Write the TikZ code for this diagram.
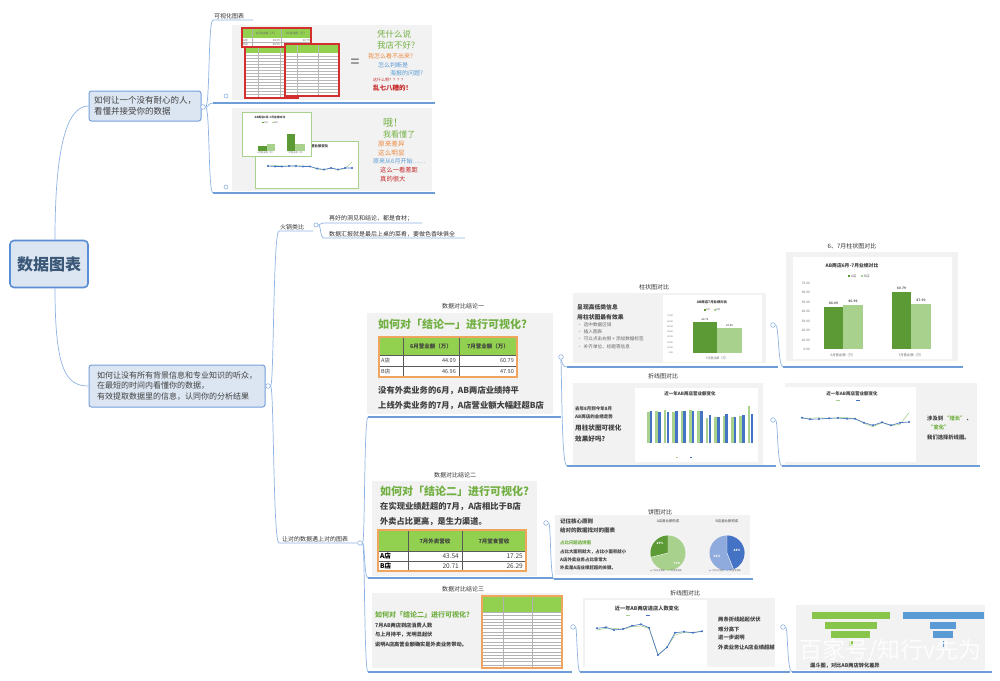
\documentclass[tikz,border=0pt]{standalone}
\usepackage{fontspec}
\setmainfont{Noto Sans CJK SC}
\newcommand\fsz[2]{\fontsize{#1}{#2}\selectfont}
\definecolor{lnblue}{HTML}{8FB4E3}
\definecolor{ulblue}{HTML}{6E9ED8}
\definecolor{nfill}{HTML}{DCE6F2}
\definecolor{nbord}{HTML}{5B8ED6}
\definecolor{roottxt}{HTML}{3B5878}
\definecolor{bgc}{HTML}{F2F2F2}
\definecolor{gtitle}{HTML}{72B043}
\definecolor{hdrg}{HTML}{92D050}
\definecolor{dgreen}{HTML}{5B9A35}
\definecolor{lgreen}{HTML}{A9D18E}
\definecolor{orng}{HTML}{F0A55E}
\definecolor{redb}{HTML}{D32F2F}
\definecolor{chblue}{HTML}{4472C4}
\definecolor{lblue}{HTML}{8FAADC}
\definecolor{torange}{HTML}{ED8A3F}
\definecolor{tblue}{HTML}{5B9BD5}
\definecolor{tred}{HTML}{C62828}
\definecolor{tgray}{HTML}{404040}
\begin{document}
\begin{tikzpicture}[x=1pt,y=-1pt,
  conn/.style={draw=lnblue,line width=0.7pt},
  ul/.style={draw=ulblue,line width=1.8pt},
  cmark/.style={circle,draw=lnblue,fill=white,inner sep=0pt,minimum size=4.6pt,line width=0.6pt},
  t/.style={inner sep=0pt,anchor=west},
  tc/.style={inner sep=0pt},
  lbl/.style={inner sep=0pt,font=\fsz{6}{7},text=black!80},
  tiny/.style={inner sep=0pt,font=\fsz{2.8}{3.2},text=black!60},
  rootn/.style={rounded corners=4pt,fill=nfill,draw=nbord,line width=1.6pt,minimum width=78pt,minimum height=47pt,inner sep=0pt,font=\fsz{16}{18}\bfseries,text=roottxt},
  topn/.style={rounded corners=2.5pt,fill=nfill,draw=nbord!85,line width=1pt,align=left,text=tgray,inner xsep=5pt,inner ysep=3pt},
  chtitle/.style={inner sep=0pt,font=\fsz{4.5}{5}\bfseries,text=tgray},
  btxt/.style={inner sep=0pt,anchor=west,font=\fsz{5.3}{6}\bfseries,text=tgray},
]
\useasboundingbox (0,0) rectangle (1000,680);
\fill[white] (0,0) rectangle (1000,680);

% ---------------- main topics
\node[rootn] (root) at (49,264) {数据图表};
\node[topn,minimum width=112pt,minimum height=30pt,font=\fsz{8.5}{11}] (na) at (145,106) {如何让一个没有耐心的人，\\看懂并接受你的数据};
\node[topn,minimum width=176pt,minimum height=42pt,font=\fsz{8}{10.5}] (nb) at (177,386) {如何让没有所有背景信息和专业知识的听众，\\在最短的时间内看懂你的数据，\\有效提取数据里的信息，认同你的分析结果};
\draw[conn] ([xshift=6pt]root.north) .. controls (55,150) and (66,106) .. (na.west);
\draw[conn] ([xshift=6pt]root.south) .. controls (55,370) and (66,386) .. (nb.west);

% ---------------- branch A
\node[cmark] (ca) at (203,107) {};
\node[lbl,anchor=south west] (vis) at (214,19) {可视化图表};
\coordinate (visE) at (253,20);
\coordinate (im1s) at (213,103); \coordinate (im1e) at (435,103);
\coordinate (im2s) at (213,193); \coordinate (im2e) at (435,193);
\draw[conn] (ca.east) .. controls (210,107) and (208,20) .. (213,20) -- (visE);
\draw[conn] (ca.east) .. controls (209,107) and (208,103) .. (im1s);
\draw[conn] (ca.east) .. controls (210,107) and (208,193) .. (im2s);
\draw[ul] (im1s) -- (im1e);
\draw[ul] (im2s) -- (im2e);
\node[cmark,minimum size=4pt] (m1) at (226,96) {};
\node[cmark,minimum size=4pt] (m2) at (226,187) {};

% image 1
\fill[bgc] (232,25) rectangle (432,100);
\fill[white] (245,47) rectangle (298,98);
\fill[hdrg] (245,47) rectangle (298,52.5);
\foreach \yy in {55.5,58.5,...,97} \draw[gray!55,line width=0.2pt] (245,\yy) -- (298,\yy);
\draw[gray!55,line width=0.2pt] (258,47) -- (258,98) (280,47) -- (280,98);
\draw[redb,line width=1.1pt] (245,47) rectangle (298,98);
\fill[white] (242,28) rectangle (311,47);
\fill[hdrg] (242,28) rectangle (311,38);
\draw[gray!60,line width=0.2pt] (242,42.5) -- (311,42.5) (252,28) -- (252,47) (281,28) -- (281,47);
\node[tiny] (s1) at (266.5,33) {6月营业额（万）};
\node[tiny] (s2) at (296,33) {7月营业额（万）};
\node[tiny,anchor=west] (s3) at (243,40.2) {A店};
\node[tiny,anchor=east] (s4) at (280,40.2) {44.09};
\node[tiny,anchor=east] (s5) at (310,40.2) {60.79};
\node[tiny,anchor=west] (s6) at (243,44.8) {B店};
\node[tiny,anchor=east] (s7) at (280,44.8) {46.96};
\node[tiny,anchor=east] (s8) at (310,44.8) {47.90};
\draw[redb,line width=1.1pt] (242,28) rectangle (311,47);
\fill[white] (285,44) rectangle (339,96);
\fill[hdrg] (285,44) rectangle (339,53);
\foreach \yy in {56,59,...,95} \draw[gray!55,line width=0.2pt] (285,\yy) -- (339,\yy);
\draw[gray!55,line width=0.2pt] (297,44) -- (297,96) (318,44) -- (318,96);
\draw[redb,line width=1.1pt] (285,44) rectangle (339,96);
\node[tc,font=\fsz{16}{16},text=gray!70!black] (eq) at (355,63) {=};
\node[t,font=\fsz{8.5}{9},text=gtitle] (w1) at (377,34) {凭什么说};
\node[t,font=\fsz{8.5}{9},text=gtitle] (w2) at (377,45) {我店不好?};
\node[t,font=\fsz{6}{7},text=torange] (w3) at (368,56) {我怎么看不出来?};
\node[t,font=\fsz{6}{7},text=tblue] (w4) at (378,65) {怎么判断是};
\node[t,font=\fsz{6}{7},text=tblue] (w5) at (390,73) {海报的问题?};
\node[t,font=\fsz{4}{5},text=tred] (w6) at (373,80) {这什么啊？？？？};
\node[t,font=\fsz{6.5}{7}\bfseries,text=tred] (w7) at (373,88.5) {乱七八糟的！};

% image 2
\fill[bgc] (232,108) rectangle (432,191);
\filldraw[fill=white,draw=lgreen,line width=0.8pt] (255,141) rectangle (358,188);
\node[tc,font=\fsz{3.4}{4}\bfseries,text=tgray] (lc0) at (309,146) {近一年AB两店营业额变化};
\draw[lgreen,line width=0.5pt] (268,166) -- (275,165.5) -- (282,166) -- (289,166) -- (296,165.8) -- (303,166) -- (310,166.3) -- (317,169) -- (324,170) -- (331,168) -- (338,170) -- (345,168.5) -- (352,162);
\draw[chblue,line width=0.6pt] plot[mark=*,mark size=0.6pt] coordinates {(268,166) (275,166.5) (282,166.5) (289,166) (296,166) (303,166.5) (310,166.5) (317,168.5) (324,169.5) (331,168) (338,169.5) (345,168) (352,168)};
\filldraw[fill=white,draw=lgreen,line width=0.8pt] (242,112) rectangle (311,156);
\node[tc,font=\fsz{2.8}{3}\bfseries,text=tgray] (bc0) at (270,117) {AB两店6月-7月业绩对比};
\fill[dgreen] (262,121.5) rectangle (263.5,123);
\fill[lgreen] (272,121.5) rectangle (273.5,123);
\node[tiny,anchor=west,font=\fsz{2.2}{2.5}] (bc1) at (264,122.3) {A店};
\node[tiny,anchor=west,font=\fsz{2.2}{2.5}] (bc2) at (274,122.3) {B店};
\fill[dgreen] (258,146) rectangle (267,150.5);
\fill[lgreen] (267,144) rectangle (275,150.5);
\fill[dgreen] (287,134) rectangle (295,150.5);
\fill[lgreen] (295,144) rectangle (305,150.5);
\node[tiny,font=\fsz{2.2}{2.5}] (bc3) at (266,153) {6月营业额（万）};
\node[tiny,font=\fsz{2.2}{2.5}] (bc4) at (296,153) {7月营业额（万）};
\node[t,font=\fsz{10}{11},text=gtitle] (v1) at (383,123) {哦！};
\node[t,font=\fsz{8}{9},text=gtitle] (v2) at (383,134) {我看懂了};
\node[t,font=\fsz{6.6}{7},text=torange] (v3) at (378,144) {原来差异};
\node[t,font=\fsz{6.6}{7},text=torange] (v4) at (378,152.5) {这么明显};
\node[t,font=\fsz{6}{7},text=tblue] (v5) at (373,161) {原来从6月开始……};
\node[t,font=\fsz{6.3}{7},text=tred] (v6) at (380,170) {这么一看差距};
\node[t,font=\fsz{6.3}{7},text=tred] (v7) at (380,179) {真的很大};

% ---------------- branch B
\node[cmark] (cb) at (268,386) {};
\node[lbl,anchor=south west] (hg) at (280,230) {火锅类比};
\coordinate (hgE) at (313,231);
\draw[conn] (cb.east) .. controls (274,386) and (273,231) .. (279,231) -- (hgE);
\node[cmark,minimum size=4.2pt] (chg) at (316,225) {};
\node[lbl,anchor=south west] (c1) at (329,222) {再好的洞见和结论，都是食材；};
\node[lbl,anchor=south west] (c2) at (329,237) {数据汇报就是最后上桌的菜肴，要做色香味俱全};
\coordinate (c1s) at (324,223); \coordinate (c1E) at (422,223);
\coordinate (c2s) at (324,238); \coordinate (c2E) at (465,238);
\draw[conn] (chg.east) .. controls (321,225) and (320,223) .. (c1s) -- (c1E);
\draw[conn] (chg.east) .. controls (321,225) and (320,238) .. (c2s) -- (c2E);

\node[lbl,anchor=south west] (rd) at (282,542) {让对的数据遇上对的图表};
\coordinate (rdE) at (357,543);
\draw[conn] (cb.east) .. controls (274,386) and (273,543) .. (279,543) -- (rdE);
\node[cmark] (crd) at (360,543) {};
\coordinate (b1s) at (368,417); \coordinate (b1e) at (561,417);
\coordinate (b2s) at (368,578); \coordinate (b2e) at (553,578);
\coordinate (b3s) at (368,672); \coordinate (b3e) at (572,672);
\draw[conn] (crd.east) .. controls (365,543) and (364,417) .. (b1s);
\draw[conn] (crd.east) .. controls (365,543) and (364,578) .. (b2s);
\draw[conn] (crd.east) .. controls (365,543) and (364,672) .. (b3s);
\draw[ul] (b1s) -- (b1e);
\draw[ul] (b2s) -- (b2e);
\draw[ul] (b3s) -- (b3e);

% ---------------- block 1
\node[lbl] (k1) at (463,306) {数据对比结论一};
\fill[bgc] (367,313) rectangle (553,414);
\node[t,font=\fsz{11}{12}\bfseries,text=gtitle] (k1t) at (378,324) {如何对「结论一」进行可视化?};
\fill[white] (379,337) rectangle (517,377);
\fill[hdrg] (379,337) rectangle (517,355);
\draw[gray!70!black,line width=0.3pt] (379,355) -- (517,355) (379,366) -- (517,366) (403,337) -- (403,377) (459,337) -- (459,377);
\draw[orng,line width=1.3pt] (379,337) rectangle (517,377);
\node[tc,font=\fsz{5.5}{6}\bfseries,text=tgray] (k1a) at (431,346) {6月营业额（万）};
\node[tc,font=\fsz{5.5}{6}\bfseries,text=tgray] (k1b) at (488,346) {7月营业额（万）};
\node[t,font=\fsz{5.5}{6},text=tgray] (k1c) at (381,360.5) {A店};
\node[tc,anchor=east,font=\fsz{5.5}{6},text=tgray] (k1d) at (456,360.5) {44.09};
\node[tc,anchor=east,font=\fsz{5.5}{6},text=tgray] (k1e) at (514,360.5) {60.79};
\node[t,font=\fsz{5.5}{6},text=tgray] (k1f) at (381,371.5) {B店};
\node[tc,anchor=east,font=\fsz{5.5}{6},text=tgray] (k1g) at (456,371.5) {46.96};
\node[tc,anchor=east,font=\fsz{5.5}{6},text=tgray] (k1h) at (514,371.5) {47.90};
\node[t,font=\fsz{8.3}{9}\bfseries,text=tgray] (k1i) at (378,391) {没有外卖业务的6月，AB两店业绩持平};
\node[t,font=\fsz{8.3}{9}\bfseries,text=tgray] (k1j) at (378,406) {上线外卖业务的7月，A店营业额大幅赶超B店};

\node[cmark] (cb1) at (561,357) {};
\coordinate (u1s) at (567,367); \coordinate (u1e) at (778,367);
\coordinate (u2s) at (567,466); \coordinate (u2e) at (776,466);
\draw[conn] (cb1.south) .. controls (562,363) and (563,367) .. (u1s);
\draw[conn] (cb1.south) .. controls (562,400) and (562,466) .. (u2s);
\draw[ul] (u1s) -- (u1e);
\draw[ul] (u2s) -- (u2e);

% 柱状图对比
\node[lbl] (k2) at (654,287) {柱状图对比};
\fill[bgc] (573,293) rectangle (766,363);
\node[t,font=\fsz{5.8}{6}\bfseries,text=tgray] (k2a) at (577,307) {呈现高低类信息};
\node[t,font=\fsz{5.8}{6}\bfseries,text=tgray] (k2b) at (577,317) {用柱状图最有效果};
\node[t,font=\fsz{4.6}{5},text=gray!80!black] (k2c) at (577,324.5) {·\ \ 选中数据区域};
\node[t,font=\fsz{4.6}{5},text=gray!80!black] (k2d) at (577,331.8) {·\ \ 插入图表};
\node[t,font=\fsz{4.6}{5},text=gray!80!black] (k2e) at (577,339) {·\ \ 可以点击右侧 + 添加数据标签};
\node[t,font=\fsz{4.6}{5},text=gray!80!black] (k2f) at (577,346.3) {·\ \ 补齐单位、标题等信息};
\fill[white] (663,295) rectangle (762,362);
\node[tc,font=\fsz{3.4}{4}\bfseries,text=tgray] (k2g) at (712,302) {AB两店7月业绩对比};
\fill[dgreen] (704,309) rectangle (705.6,310.6);
\fill[lgreen] (714,309) rectangle (715.6,310.6);
\node[tiny,anchor=west,font=\fsz{2.4}{3}] (k2h) at (706,309.8) {A店};
\node[tiny,anchor=west,font=\fsz{2.4}{3}] (k2i) at (716,309.8) {B店};
\foreach \v [count=\i from 0] in {70.00,60.00,50.00,40.00,30.00,20.00,10.00,0.00}
  \node[tiny,anchor=east,font=\fsz{2.2}{2.5}] (k2y\i) at (673,{316+\i*5.3}) {\v};
\fill[dgreen] (693,322) rectangle (717,353);
\fill[lgreen] (717,328) rectangle (742,353);
\node[tiny,font=\fsz{2.4}{3}\bfseries] (k2j) at (705,319.5) {60.79};
\node[tiny,font=\fsz{2.4}{3}\bfseries] (k2k) at (729.5,325.5) {47.90};
\node[tiny,font=\fsz{3}{3.5}] (k2l) at (717,358.5) {7月营业额（万）};

\node[cmark] (cbar) at (773,325) {};
\coordinate (u3s) at (783,367); \coordinate (u3e) at (963,367);
\draw[conn] (cbar.east) .. controls (779,325) and (778,367) .. (u3s);
\draw[ul] (u3s) -- (u3e);

% 6、7月柱状图对比
\node[lbl] (k3) at (852,246) {6、7月柱状图对比};
\fill[bgc] (786,252) rectangle (958,361);
\fill[white] (793,257) rectangle (952,359);
\node[tc,font=\fsz{4.8}{5}\bfseries,text=tgray] (k3a) at (852,266) {AB两店6月-7月业绩对比};
\fill[dgreen] (848,275) rectangle (850,277);
\fill[lgreen] (861,275) rectangle (863,277);
\node[tiny,anchor=west,font=\fsz{3.3}{4}] (k3b) at (851,276) {A店};
\node[tiny,anchor=west,font=\fsz{3.3}{4}] (k3c) at (864,276) {B店};
\foreach \v [count=\i from 0] in {70.00,60.00,50.00,40.00,30.00,20.00,10.00,0.00}
  \node[tiny,anchor=east,font=\fsz{3.2}{4}] (k3y\i) at (810,{283.3+\i*9.43}) {\v};
\fill[dgreen] (824,307.4) rectangle (843,349.3);
\fill[lgreen] (843,304.7) rectangle (863,349.3);
\fill[dgreen] (892,292) rectangle (911,349.3);
\fill[lgreen] (911,304.1) rectangle (931,349.3);
\node[tiny,font=\fsz{3.3}{4}\bfseries] (k3d) at (833.5,303.5) {44.09};
\node[tiny,font=\fsz{3.3}{4}\bfseries] (k3e) at (853,300.8) {46.96};
\node[tiny,font=\fsz{3.3}{4}\bfseries] (k3f) at (901.5,288.2) {60.79};
\node[tiny,font=\fsz{3.3}{4}\bfseries] (k3g) at (921,300.2) {47.90};
\node[tiny,font=\fsz{3.3}{4}] (k3h) at (843,355) {6月营业额（万）};
\node[tiny,font=\fsz{3.3}{4}] (k3i) at (911,355) {7月营业额（万）};

% 折线图对比 1
\node[lbl] (k4) at (663,376) {折线图对比};
\fill[bgc] (573,383) rectangle (763,465);
\node[t,font=\fsz{4.5}{5}\bfseries,text=tgray] (k4a) at (575,409) {去年8月到今年8月};
\node[t,font=\fsz{4.5}{5}\bfseries,text=tgray] (k4b) at (575,417) {AB两店的业绩走势};
\node[t,font=\fsz{6.6}{7}\bfseries,text=tgray] (k4c) at (575,427.5) {用柱状图可视化};
\node[t,font=\fsz{6.6}{7}\bfseries,text=tgray] (k4d) at (575,439) {效果好吗?};
\fill[white] (635,388) rectangle (758,462);
\node[chtitle] (k4e) at (690,394) {近一年AB两店营业额变化};
\foreach \g/\b [count=\i from 0] in {125/122,122/127,120/126,126/123,122/122,120/124,124/124,145/135,140/141,138/132,142/142,138/134,108/132}{
  \fill[lgreen] ({647+\i*8.4},{370+\g/3}) rectangle ({649.6+\i*8.4},442.7);
  \fill[chblue] ({649.8+\i*8.4},{370+\b/3}) rectangle ({652.4+\i*8.4},442.7);
}
\fill[lgreen] (676,456.5) rectangle (677.5,458);
\fill[chblue] (690,456.5) rectangle (691.5,458);

\node[cmark] (cln) at (773,420) {};
\coordinate (u4s) at (782,466); \coordinate (u4e) at (980,466);
\draw[conn] (cln.east) .. controls (778,420) and (777,466) .. (u4s);
\draw[ul] (u4s) -- (u4e);
\fill[bgc] (785,383) rectangle (977,465);
\fill[white] (785,387) rectangle (916,462);
\node[chtitle] (k5a) at (852,394) {近一年AB两店营业额变化};
\draw[lgreen,line width=0.6pt] (836,400) -- (840,400);
\draw[chblue,line width=0.6pt] (856,400) -- (860,400);
\draw[lgreen,line width=0.6pt] plot coordinates {(802,418.3) (810,418.3) (819,417.7) (829,418.7) (838,417.7) (847,417.7) (855,418.7) (864,423.3) (873,426.7) (882,422.7) (891,425.7) (900,424.3) (909,412.7)};
\draw[chblue,line width=0.6pt] plot[mark=*,mark size=0.7pt] coordinates {(802,417.7) (810,419.3) (819,419) (829,418.3) (838,418) (847,418.7) (855,418.7) (864,422.7) (873,425.3) (882,422.3) (891,425.3) (900,422.7) (909,422)};
\node[btxt] (k5b) at (927,418) {涉及到 \textcolor{gtitle}{“增长”} 、};
\node[btxt] (k5c) at (928,427.5) {\textcolor{gtitle}{“变化”}};
\node[btxt] (k5d) at (927,438) {我们选择折线图。};

% ---------------- block 2
\node[lbl] (k6) at (455,475) {数据对比结论二};
\fill[bgc] (372,481) rectangle (537,576);
\node[t,font=\fsz{11}{12}\bfseries,text=gtitle] (k6t) at (380,491) {如何对「结论二」进行可视化?};
\node[t,font=\fsz{8.3}{9}\bfseries,text=tgray] (k6a) at (380,507) {在实现业绩赶超的7月，A店相比于B店};
\node[t,font=\fsz{8.2}{9}\bfseries,text=tgray] (k6b) at (380,522) {外卖占比更高，是生力渠道。};
\fill[white] (378,530) rectangle (526,571);
\fill[hdrg] (378,530) rectangle (526,551);
\draw[gray!70!black,line width=0.3pt] (378,551) -- (526,551) (378,561) -- (526,561) (408,530) -- (408,571) (462,530) -- (462,571);
\draw[orng,line width=1.3pt] (378,530) rectangle (526,571);
\node[tc,font=\fsz{5.5}{6}\bfseries,text=tgray] (k6c) at (435,541) {7月外卖营收};
\node[tc,font=\fsz{5.5}{6}\bfseries,text=tgray] (k6d) at (494,541) {7月堂食营收};
\node[t,font=\fsz{6.5}{7}\bfseries,text=black] (k6e) at (380,556) {A店};
\node[tc,anchor=east,font=\fsz{6.5}{7},text=tgray] (k6f) at (459,556) {43.54};
\node[tc,anchor=east,font=\fsz{6.5}{7},text=tgray] (k6g) at (523,556) {17.25};
\node[t,font=\fsz{6.5}{7}\bfseries,text=black] (k6h) at (380,566.3) {B店};
\node[tc,anchor=east,font=\fsz{6.5}{7},text=tgray] (k6i) at (459,566.3) {20.71};
\node[tc,anchor=east,font=\fsz{6.5}{7},text=tgray] (k6j) at (523,566.3) {26.29};

\node[cmark] (cb2) at (546,523) {};
\coordinate (u5s) at (554,579); \coordinate (u5e) at (753,579);
\draw[conn] (cb2.east) .. controls (551,523) and (550,579) .. (u5s);
\draw[ul] (u5s) -- (u5e);

% 饼图对比
\node[lbl] (k7) at (660,512) {饼图对比};
\fill[bgc] (555,515) rectangle (750,575);
\node[t,font=\fsz{5.5}{6}\bfseries,text=tgray] (k7a) at (560,521) {记住核心原则};
\node[t,font=\fsz{5.5}{6}\bfseries,text=tgray] (k7b) at (560,530.5) {给对的数据找对的图表};
\node[t,font=\fsz{4.4}{5}\bfseries,text=gtitle] (k7c) at (560,543) {占比问题选饼图};
\node[t,font=\fsz{4.4}{5}\bfseries,text=tgray] (k7d) at (560,551.5) {占比大面积就大，占比小面积就小};
\node[t,font=\fsz{4.4}{5}\bfseries,text=tgray] (k7e) at (560,559.5) {A店外卖业务占比非常大};
\node[t,font=\fsz{4.4}{5}\bfseries,text=tgray] (k7f) at (560,567.5) {外卖是A店业绩赶超的关键。};
\node[tc,font=\fsz{3.4}{4},text=tgray] (k7g) at (668,521) {A店营业额构成};
\fill[lgreen] (668,553) circle (17.5);
\fill[dgreen] (668,553) -- ++(-90:17.5) arc[start angle=-90,end angle=-194,radius=17.5] -- cycle;
\draw[white,line width=0.4pt] (668,553) -- ++(-90:17.5) (668,553) -- ++(-194:17.5);
\node[tc,font=\fsz{3}{3.5}\bfseries,text=white] (k7h) at (660,543.5) {29\%};
\node[tc,font=\fsz{3}{3.5}\bfseries,text=white] (k7i) at (677,563) {71\%};
\node[tc,font=\fsz{3.4}{4},text=tgray] (k7j) at (727,521) {B店营业额构成};
\fill[lblue] (727,553) circle (17.5);
\fill[chblue] (727,553) -- ++(-90:17.5) arc[start angle=-90,end angle=68,radius=17.5] -- cycle;
\draw[white,line width=0.4pt] (727,553) -- ++(-90:17.5) (727,553) -- ++(68:17.5);
\node[tc,font=\fsz{3}{3.5}\bfseries,text=white] (k7k) at (737,550) {44\%};
\node[tc,font=\fsz{3}{3.5}\bfseries,text=white] (k7l) at (717,556) {56\%};
\fill[dgreen] (651,570.5) circle (0.7);
\fill[lgreen] (668,570.5) circle (0.7);
\node[tiny,anchor=west,font=\fsz{2.2}{2.5}] (k7m) at (652.5,570.5) {7月外卖营收};
\node[tiny,anchor=west,font=\fsz{2.2}{2.5}] (k7n) at (669.5,570.5) {7月堂食营收};
\fill[chblue] (710,570.5) circle (0.7);
\fill[lblue] (727,570.5) circle (0.7);
\node[tiny,anchor=west,font=\fsz{2.2}{2.5}] (k7o) at (711.5,570.5) {7月外卖营收};
\node[tiny,anchor=west,font=\fsz{2.2}{2.5}] (k7p) at (728.5,570.5) {7月堂食营收};

% ---------------- block 3
\node[lbl] (k8) at (463,589) {数据对比结论三};
\fill[bgc] (372,593) rectangle (560,668);
\node[t,font=\fsz{7}{8}\bfseries,text=gtitle] (k8t) at (375,615) {如何对「结论二」进行可视化?};
\node[t,font=\fsz{5.2}{6}\bfseries,text=tgray] (k8a) at (375,626) {7月AB两店到店消费人数};
\node[t,font=\fsz{5.2}{6}\bfseries,text=tgray] (k8b) at (375,635) {与上月持平，无明显起伏};
\node[t,font=\fsz{5.2}{6}\bfseries,text=tgray] (k8c) at (375,644) {说明A店高营业额确实是外卖业务带动。};
\fill[white] (482,596) rectangle (562,668);
\fill[hdrg] (482,596) rectangle (562,612);
\foreach \yy in {615.3,618.6,...,666} \draw[gray!60,line width=0.2pt] (482,\yy) -- (562,\yy);
\draw[gray!60,line width=0.2pt] (482,612) -- (562,612) (503,596) -- (503,668) (532,596) -- (532,668);
\draw[orng,line width=1.2pt] (482,596) rectangle (562,668);

\node[cmark] (cb3) at (573,627) {};
\coordinate (u6s) at (580,672); \coordinate (u6e) at (790,672);
\draw[conn] (cb3.east) .. controls (577,627) and (577,672) .. (u6s);
\draw[ul] (u6s) -- (u6e);

% 折线图对比 2
\node[lbl] (k9) at (685,593) {折线图对比};
\fill[bgc] (583,598) rectangle (775,667);
\fill[white] (585,600) rectangle (707,667);
\node[chtitle,font=\fsz{5.2}{6}\bfseries] (k9a) at (647,608) {近一年AB两店进店人数变化};
\draw[lgreen,line width=0.6pt] (626,615) -- (630,615);
\draw[chblue,line width=0.6pt] (646,615) -- (650,615);
\draw[lgreen,line width=0.6pt] plot coordinates {(597,630) (606,628.3) (614,628.3) (623,629.3) (632,626.7) (641,626) (649,628.3) (658,655) (667,647.3) (675,635) (684,632.3) (693,632.3) (702,631.3)};
\draw[chblue,line width=0.6pt] plot[mark=*,mark size=0.7pt] coordinates {(597,628.3) (606,627.3) (614,630) (623,629) (632,625.7) (641,624.3) (649,627.7) (658,655) (667,647.3) (675,632.7) (684,631.7) (693,632.7) (702,631.3)};
\node[btxt] (k9b) at (718,620) {两条折线起起伏伏};
\node[btxt] (k9c) at (718,629) {难分高下};
\node[btxt] (k9d) at (718,637.5) {进一步说明};
\node[btxt] (k9e) at (718,647) {外卖业务让A店业绩超越};

\node[cmark] (cl3) at (783,627) {};
\coordinate (u7s) at (792,672); \coordinate (u7e) at (992,672);
\draw[conn] (cl3.east) .. controls (788,627) and (787,672) .. (u7s);
\draw[ul] (u7s) -- (u7e);

% funnel
\fill[bgc] (796,605) rectangle (985,670);
\fill[hdrg!80!dgreen] (812,612) rectangle (890,619);
\fill[hdrg!80!dgreen] (825,622) rectangle (877,629);
\fill[hdrg!80!dgreen] (831,631) rectangle (870,638);
\fill[hdrg!80!dgreen] (849,641) rectangle (853,646);
\fill[tblue] (903,612) rectangle (984,619);
\fill[tblue] (930,622) rectangle (956,629);
\fill[tblue] (933,631) rectangle (953,638);
\fill[tblue] (942.5,641) rectangle (944,647);
\node[t,font=\fsz{5.2}{6}\bfseries,text=tgray] (k10) at (810,666) {漏斗图，对比AB两店转化差异};
\node[tc,font=\fsz{23}{24},text=white,opacity=0.85] (wm) at (890,651) {百家号/知行v先为};
\end{tikzpicture}
\end{document}
